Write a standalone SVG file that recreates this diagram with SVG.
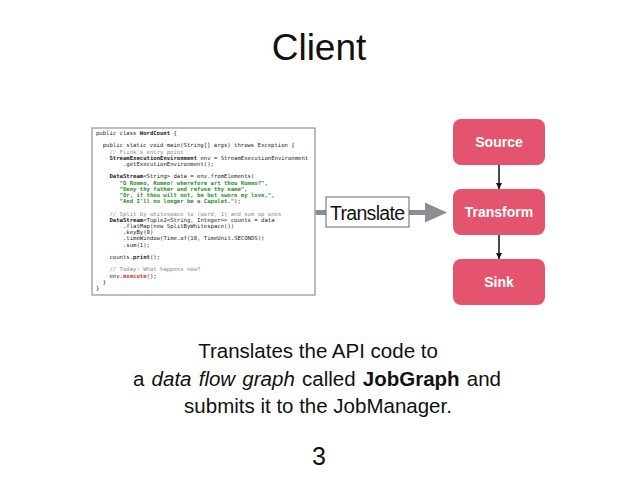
<svg xmlns="http://www.w3.org/2000/svg" width="638" height="479" viewBox="0 0 638 479">
<style>
.sans{font-family:"Liberation Sans",Arial,Helvetica,sans-serif;fill:#111}
.code{font-family:"DejaVu Sans Mono","Liberation Mono",monospace;font-size:5.6px;fill:#222}
.b{font-weight:bold}
.cm{fill:#8a8a8a}
.str{fill:#2e8b2e;font-weight:bold}
.kw{fill:#c8302f;font-weight:bold}
.node{fill:#E4546E}
.nlabel{font-family:"Liberation Sans",Arial,sans-serif;font-size:14px;font-weight:bold;fill:#fff;text-anchor:middle}
</style>
<defs>
<marker id="blk" viewBox="0 0 10 10" refX="10" refY="5" markerWidth="6" markerHeight="7" markerUnits="userSpaceOnUse" orient="auto">
<path d="M0,0 L10,5 L0,10 Z" fill="#111"/>
</marker>
</defs>
<rect width="638" height="479" fill="#fff"/>
<text class="sans" x="319" y="60" font-size="37" text-anchor="middle">Client</text>

<g id="code">
<rect x="92" y="128" width="223" height="167" fill="#fff" stroke="#9a9a9a" stroke-width="1.3"/>
<text class="code" x="96" y="135">public class <tspan class="b">WordCount</tspan> {</text>
<text class="code" x="102.7" y="147.4">public static void main(String[] args) throws Exception {</text>
<text class="code cm" x="109.5" y="153.6">// Flink's entry point</text>
<text class="code" x="109.5" y="159.8"><tspan class="b">StreamExecutionEnvironment</tspan> env = StreamExecutionEnvironment</text>
<text class="code" x="123" y="166">.getExecutionEnvironment();</text>
<text class="code" x="109.5" y="178.4"><tspan class="b">DataStream</tspan>&lt;String&gt; data = env.fromElements(</text>
<text class="code str" x="119.6" y="184.6">"O Romeo, Romeo! wherefore art thou Romeo?",</text>
<text class="code str" x="119.6" y="190.8">"Deny thy father and refuse thy name",</text>
<text class="code str" x="119.6" y="197">"Or, if thou wilt not, be but sworn my love,",</text>
<text class="code" x="119.6" y="203.2"><tspan class="str">"And I'll no longer be a Capulet."</tspan>);</text>
<text class="code cm" x="109.5" y="215.6">// Split by whitespace to (word, 1) and sum up ones</text>
<text class="code" x="109.5" y="221.8"><tspan class="b">DataStream</tspan>&lt;Tuple2&lt;String, Integer&gt;&gt; counts = data</text>
<text class="code" x="123" y="228">.flatMap(new SplitByWhitespace())</text>
<text class="code" x="123" y="234.2">.keyBy(0)</text>
<text class="code" x="123" y="240.4">.timeWindow(Time.of(10, TimeUnit.SECONDS))</text>
<text class="code" x="123" y="246.6">.sum(1);</text>
<text class="code" x="109.5" y="259">counts.<tspan class="b">print</tspan>();</text>
<text class="code cm" x="109.5" y="271.4">// Today: What happens now?</text>
<text class="code" x="109.5" y="277.6">env.<tspan class="kw">execute</tspan>();</text>
<text class="code" x="102.7" y="283.8">}</text>
<text class="code" x="96" y="290">}</text>
</g>

<g id="source">
<rect class="node" x="453" y="119" width="92" height="46" rx="8"/>
<text class="nlabel" x="499" y="147">Source</text>
</g>
<g id="transform">
<rect class="node" x="453" y="189" width="92" height="46" rx="8"/>
<text class="nlabel" x="499" y="217">Transform</text>
</g>
<g id="sink">
<rect class="node" x="453" y="259" width="92" height="46" rx="8"/>
<text class="nlabel" x="499" y="287">Sink</text>
</g>

<g id="connectors">
<line x1="315.5" y1="212.5" x2="428" y2="212.5" stroke="#8b8f93" stroke-width="5"/>
<polygon points="425,202.5 447,212.5 425,222.5" fill="#8b8f93"/>
<rect x="326" y="197" width="83" height="30" fill="#fff" stroke="#666" stroke-width="1"/>
<text class="sans" x="367.5" y="220" font-size="19.5" text-anchor="middle" textLength="75">Translate</text>
<line x1="499" y1="165" x2="499" y2="189" stroke="#111" stroke-width="1.5" marker-end="url(#blk)"/>
<line x1="499" y1="235" x2="499" y2="259" stroke="#111" stroke-width="1.5" marker-end="url(#blk)"/>
</g>

<text class="sans" x="318" y="358" font-size="20.5" text-anchor="middle">Translates the API code to</text>
<text class="sans" x="317" y="386" font-size="20.5" text-anchor="middle" word-spacing="1.5">a <tspan font-style="italic">data flow graph</tspan> called <tspan font-weight="bold">JobGraph</tspan> and</text>
<text class="sans" x="318" y="413" font-size="20.5" text-anchor="middle">submits it to the JobManager.</text>
<text class="sans" x="319" y="465" font-size="25" text-anchor="middle">3</text>
</svg>
